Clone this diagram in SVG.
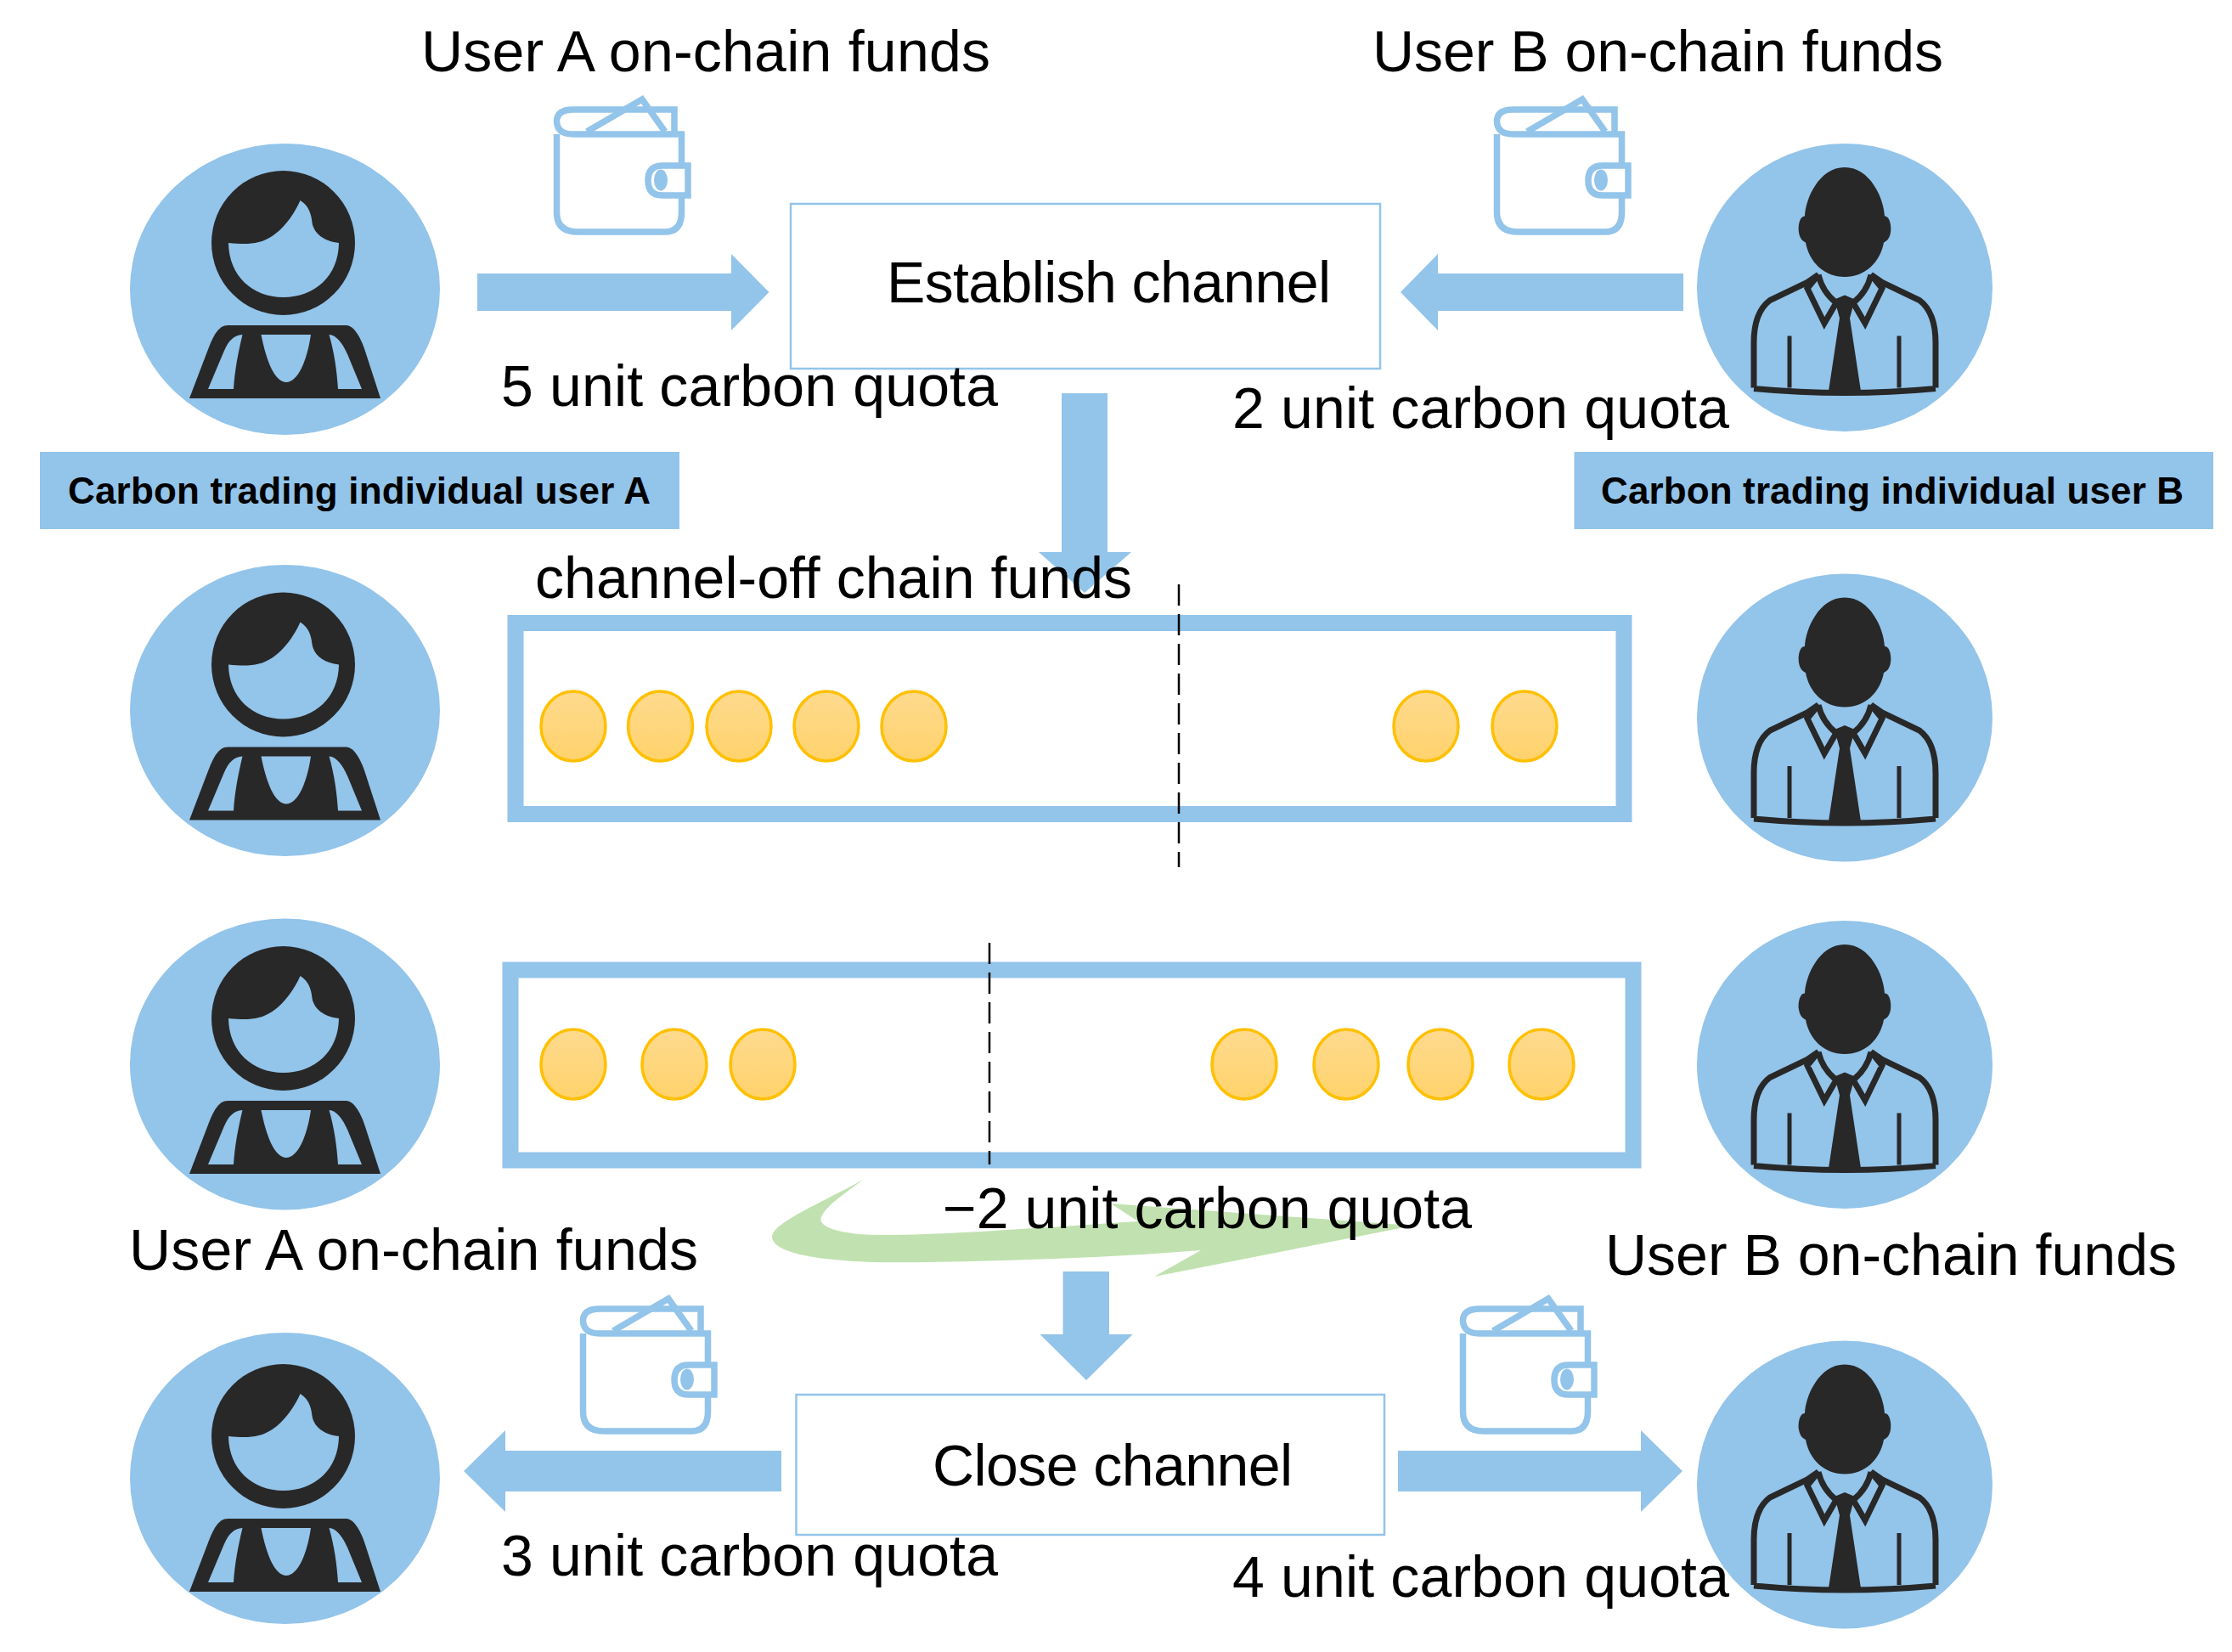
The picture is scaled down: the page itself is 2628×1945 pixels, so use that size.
<svg xmlns="http://www.w3.org/2000/svg" width="2628" height="1945" viewBox="0 0 2628 1945">
<style>
text{font-family:"Liberation Sans",Arial,Helvetica,sans-serif;fill:#000}
.t{font-size:68px}
.b{font-size:44px;font-weight:bold}
.blue{fill:#93C4EA}
.dark{fill:#282828}
.w{fill:none;stroke:#93C4EA;stroke-width:7.500}
.coin{fill:url(#g);stroke:#FFC000;stroke-width:3.500}
.dash{stroke:#000;stroke-width:2.500;stroke-dasharray:25 10;fill:none}
.box{fill:#fff;stroke:#93C4EA;stroke-width:2.500}
.chan{fill:#fff;stroke:#93C4EA;stroke-width:19}
</style>
<defs>
<linearGradient id="g" x1="0" y1="0" x2="0" y2="1"><stop offset="0" stop-color="#FEDA8E"/><stop offset="1" stop-color="#FFD26B"/></linearGradient>
<ellipse id="disc-a" class="blue" cx="0" cy="0" rx="182.500" ry="171.500"/>
<g id="woman">
<ellipse class="dark" cx="-2" cy="-54" rx="84.500" ry="85"/>
<path class="blue" d="M-66.500,-54C-45,-52 -30,-52 -15,-62C0,-72 12,-90 18,-104C28,-98 31,-88 32,-78C34,-65 46,-56 63.500,-54C63,-15 35,10 -2,10C-38,10 -66,-15 -66.500,-54Z"/>
<path class="dark" d="M-112.500,129L-90,70C-83,52 -77,43 -67,43H72C82,43 90,60 94,72L112.500,129Z"/>
<path class="blue" d="M-90.500,118L-72,74C-66,60 -60,55 -50,54C-55,75 -59,95 -60.500,118Z"/>
<path class="blue" d="M-28,54H30.500C26,85 15,110 1.500,110C-12,110 -22,85 -28,54Z"/>
<path class="blue" d="M52,54C60,54 68,64 74,78L90.500,118H62.500C61,95 58,75 52,54Z"/>
</g>
<g id="man">
<ellipse class="blue" cx="0" cy="0" rx="174" ry="169.500"/>
<path class="dark" d="M0,-141.500C30,-141.500 46,-105 47,-84C54,-84 55,-70 54,-65C53,-58 50,-55 46,-53C42,-30 24,-12.500 0,-12.500C-24,-12.500 -42,-30 -46,-53C-50,-55 -53,-58 -54,-65C-55,-70 -54,-84 -47,-84C-46,-105 -30,-141.500 0,-141.500Z"/>
<path d="M-107,118V65C-107,40 -100,24 -88,15L-44,-6L-31,-15L-44,1L-24,42L-10,18C-20,10 -28,-2 -31,-15M107,118V65C107,40 100,24 88,15L44,-6L31,-15L44,1L24,42L10,18C20,10 28,-2 31,-15M-107,119Q0,129 107,119" fill="none" stroke="#282828" stroke-width="7"/>
<path d="M-65,57V118M64,57V118" fill="none" stroke="#282828" stroke-width="5"/>
<path class="dark" d="M-12,14L0,9L12,14L6,36L19,122H-19L-6,36Z"/>
</g>
<g id="wallet" class="w">
<path d="M655.500,158V250Q655.500,273 680,273H783Q802.500,273 802.500,250V155"/>
<path d="M806,158H675Q656,158 655.500,143Q655.500,129 675,129H794V155"/>
<path d="M691,155L756,117L783,155"/>
<path d="M810,195H780Q763,195 763,212.500Q763,230 780,230H810Z" fill="#fff"/>
<ellipse cx="778" cy="212" rx="8" ry="12.500" fill="#93C4EA" stroke="none"/>
</g>
</defs>
<rect width="2628" height="1945" fill="#fff"/>
<g id="connectors">
<polygon class="blue" points="562,322 861,322 861,299 905.500,344 861,389 861,366 562,366"/>
<polygon class="blue" points="1982,322 1693,322 1693,299 1649,344 1693,389 1693,366 1982,366"/>
<polygon class="blue" points="1250,463 1304,463 1304,650 1332,650 1277,698 1223,650 1250,650"/>
<polygon class="blue" points="1251.500,1497 1306,1497 1306,1571 1333.600,1571 1279,1625 1224.500,1571 1251.500,1571"/>
<polygon class="blue" points="920,1708 595,1708 595,1684 546,1732 595,1780 595,1756 920,1756"/>
<polygon class="blue" points="1646,1708 1932,1708 1932,1684 1981,1732 1932,1780 1932,1756 1646,1756"/>
<path fill="#C1E2B0" d="M1016,1389C960,1420 909,1440 909,1457C912,1480 990,1488 1090,1486C1200,1484 1320,1480 1414,1472L1359,1503L1664,1443L1308,1417L1340,1438C1220,1446 1100,1455 1032,1454C990,1453 962,1445 967,1433C972,1420 995,1405 1016,1389Z"/>
</g>
<g id="establish-channel"><rect class="box" x="931" y="240" width="694" height="194"/><text class="t" x="1044" y="356" textLength="523">Establish channel</text></g>
<g id="close-channel"><rect class="box" x="937.500" y="1642" width="692.500" height="165"/><text class="t" x="1098" y="1749" textLength="424">Close channel</text></g>
<g id="channel-1">
<rect class="chan" x="607" y="733.500" width="1305" height="225"/>
<ellipse class="coin" cx="675" cy="855" rx="38" ry="41"/>
<ellipse class="coin" cx="777.500" cy="855" rx="38" ry="41"/>
<ellipse class="coin" cx="870" cy="855" rx="38" ry="41"/>
<ellipse class="coin" cx="973" cy="855" rx="38" ry="41"/>
<ellipse class="coin" cx="1076" cy="855" rx="38" ry="41"/>
<ellipse class="coin" cx="1679" cy="855" rx="38" ry="41"/>
<ellipse class="coin" cx="1795" cy="855" rx="38" ry="41"/>
<path class="dash" d="M1388,688V1021"/>
</g>
<g id="channel-2">
<rect class="chan" x="601" y="1142" width="1322" height="224"/>
<ellipse class="coin" cx="675" cy="1253" rx="38" ry="41"/>
<ellipse class="coin" cx="794" cy="1253" rx="38" ry="41"/>
<ellipse class="coin" cx="898" cy="1253" rx="38" ry="41"/>
<ellipse class="coin" cx="1465" cy="1253" rx="38" ry="41"/>
<ellipse class="coin" cx="1585" cy="1253" rx="38" ry="41"/>
<ellipse class="coin" cx="1696" cy="1253" rx="38" ry="41"/>
<ellipse class="coin" cx="1815" cy="1253" rx="38" ry="41"/>
<path class="dash" d="M1165,1110V1371"/>
</g>
<g id="user-a-1"><use href="#disc-a" transform="translate(335.500,340.500)"/><use href="#woman" transform="translate(335.500,340)"/></g>
<g id="user-a-2"><use href="#disc-a" transform="translate(335.500,836.500)"/><use href="#woman" transform="translate(335.500,836.500)"/></g>
<g id="user-a-3"><use href="#disc-a" transform="translate(335.500,1253)"/><use href="#woman" transform="translate(335.500,1253)"/></g>
<g id="user-a-4"><use href="#disc-a" transform="translate(335.500,1740.500)"/><use href="#woman" transform="translate(335.500,1745)"/></g>
<g id="user-b-1"><use href="#man" transform="translate(2172,338.500)"/></g>
<g id="user-b-2"><use href="#man" transform="translate(2172,845)"/></g>
<g id="user-b-3"><use href="#man" transform="translate(2172,1253.500)"/></g>
<g id="user-b-4"><use href="#man" transform="translate(2172,1748)"/></g>
<g id="wallet-a-top"><use href="#wallet"/></g>
<g id="wallet-b-top"><use href="#wallet" transform="translate(1107,0)"/></g>
<g id="wallet-a-bottom"><use href="#wallet" transform="translate(31,1412)"/></g>
<g id="wallet-b-bottom"><use href="#wallet" transform="translate(1067,1412)"/></g>
<g id="label-user-a"><rect class="blue" x="47" y="532" width="753" height="91"/><text class="b" x="80" y="593" textLength="686">Carbon trading individual user A</text></g>
<g id="label-user-b"><rect class="blue" x="1853.500" y="532" width="752.500" height="91"/><text class="b" x="1885" y="593" textLength="686">Carbon trading individual user B</text></g>
<g id="labels">
<text class="t" x="496" y="84" textLength="670">User A on-chain funds</text>
<text class="t" x="1616" y="84" textLength="672">User B on-chain funds</text>
<text class="t" x="590" y="478" textLength="585">5 unit carbon quota</text>
<text class="t" x="1451" y="504" textLength="585">2 unit carbon quota</text>
<text class="t" x="630" y="704" textLength="703">channel-off chain funds</text>
<text class="t" x="1110" y="1446" textLength="623">−2 unit carbon quota</text>
<text class="t" x="152" y="1495" textLength="670">User A on-chain funds</text>
<text class="t" x="1890" y="1501" textLength="673">User B on-chain funds</text>
<text class="t" x="590" y="1855" textLength="585">3 unit carbon quota</text>
<text class="t" x="1451" y="1880" textLength="585">4 unit carbon quota</text>
</g>
</svg>
